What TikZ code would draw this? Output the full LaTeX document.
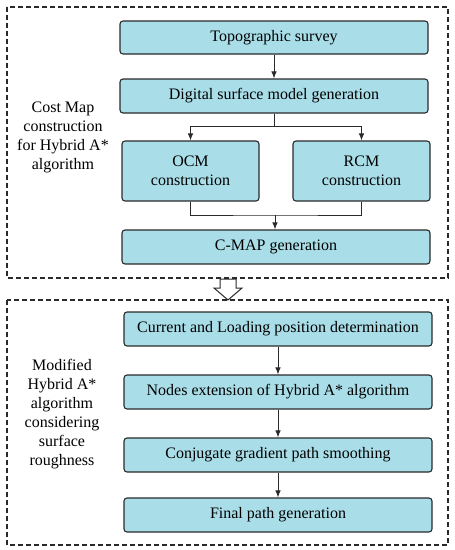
\documentclass[tikz,border=0pt]{standalone}
\usepackage{fontspec}
\setmainfont{Liberation Serif}
\usetikzlibrary{arrows.meta,calc}
\definecolor{boxfill}{HTML}{A9DEE9}
\definecolor{edge}{HTML}{2A2A2A}
\begin{document}
\begin{tikzpicture}[x=1pt,y=-1pt,
  procbox/.style={draw=edge, line width=1.1pt, fill=boxfill, rounded corners=3pt,
    inner sep=0pt, align=center, font=\fontsize{16}{19}\selectfont},
  frame/.style={draw=edge, line width=1.1pt, dash pattern=on 5pt off 3pt},
  conn/.style={draw=edge, line width=1pt},
  arr/.style={conn, -{Latex[length=7pt,width=5.5pt]}},
  sidelabel/.style={align=center, font=\fontsize{16}{19}\selectfont, inner sep=0pt}]
\useasboundingbox (0,0) rectangle (455,550);
\fill[white] (0,0) rectangle (455,550);
% frames
\draw[frame] (7,7) rectangle (448,278);
\draw[frame] (7,300) rectangle (448,545);
% upper boxes
\node[procbox, minimum width=308pt, minimum height=33pt] (topo) at (274,37.5) {Topographic survey};
\node[procbox, minimum width=308pt, minimum height=34pt] (dsm) at (274,96) {Digital surface model generation};
\node[procbox, minimum width=137pt, minimum height=60pt] (ocm) at (190.5,171) {OCM\\construction};
\node[procbox, minimum width=137pt, minimum height=60pt] (rcm) at (361.5,171) {RCM\\construction};
\node[procbox, minimum width=308pt, minimum height=34pt] (cmap) at (276,247) {C-MAP generation};
\node[sidelabel] (lab1) at (63,137) {Cost Map\\construction\\for Hybrid A*\\algorithm};
% upper connectors
\draw[arr] (topo.south) -- (topo.south |- dsm.north);
\coordinate (split) at ($(dsm.south)+(0,13)$);
\draw[conn] (dsm.south) -- (split);
\draw[arr] (split) -| (ocm.north);
\draw[arr] (split) -| (rcm.north);
\coordinate (merge) at (275,215);
\draw[conn] (ocm.south) |- (merge) -| (rcm.south);
\draw[arr] (merge) -- (merge |- cmap.north);
% hollow arrow
\draw[draw=edge, line width=1pt, fill=white] (220,279) -- (236,279) -- (236,288) -- (242,288) -- (228,300) -- (214,288) -- (220,288) -- cycle;
% lower boxes
\node[procbox, minimum width=308pt, minimum height=34pt] (cur) at (278,329) {Current and Loading position determination};
\node[procbox, minimum width=308pt, minimum height=34pt] (ext) at (278,392) {Nodes extension of Hybrid A* algorithm};
\node[procbox, minimum width=308pt, minimum height=34pt] (cg) at (278,455) {Conjugate gradient path smoothing};
\node[procbox, minimum width=308pt, minimum height=34pt] (fin) at (278,515) {Final path generation};
\node[sidelabel] (lab2) at (62,414.5) {Modified\\Hybrid A*\\algorithm\\considering\\surface\\roughness};
\draw[arr] (cur) -- (ext);
\draw[arr] (ext) -- (cg);
\draw[arr] (cg) -- (fin);
\end{tikzpicture}
\end{document}
